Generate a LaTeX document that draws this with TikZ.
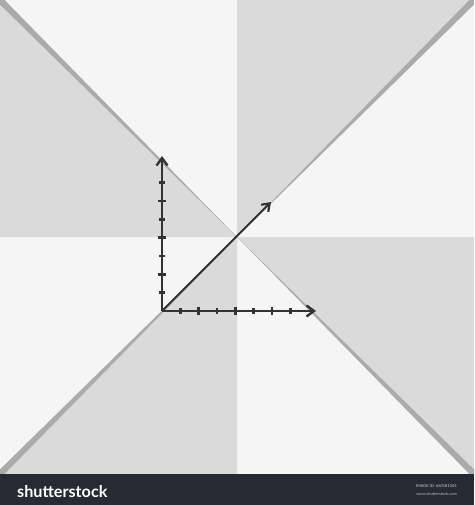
\documentclass[tikz,border=0pt]{standalone}
\usepackage{fontspec}
\setmainfont{Lato}
\usetikzlibrary{arrows.meta,calc}

\definecolor{paneLight}{HTML}{F5F5F5}
\definecolor{paneDark}{HTML}{DADADA}
\definecolor{seamGray}{HTML}{ABABAB}
\definecolor{axisDark}{HTML}{333333}
\definecolor{barDark}{HTML}{262A33}

\tikzset{axis/.style = {draw = axisDark,
                        line width = 2.7pt,
                        -{Straight Barb[length=7.5pt,width=11pt,line width=2.4pt]}},
         slant/.style = {draw = axisDark,
                         line width = 2pt,
                         -{Straight Barb[length=7pt,width=10pt,line width=2.2pt]}},
         tick/.style = {draw = axisDark,
                        line width = 2.6pt},
         seam/.style = {fill = seamGray}}

\begin{document}
\begin{tikzpicture}[x=1pt,y=-1pt]
    \useasboundingbox (0,0) rectangle (474,505);
    % background panes
    \fill[paneLight] (0,0) rectangle (474,474);
    \fill[paneDark] (0,0) -- (237,237) -- (0,237) -- cycle;
    \fill[paneDark] (237,0) -- (474,0) -- (237,237) -- cycle;
    \fill[paneDark] (237,237) -- (474,237) -- (474,474) -- cycle;
    \fill[paneDark] (237,237) -- (237,474) -- (0,474) -- cycle;
    % seams to the corners
    \begin{scope}
        \clip (0,0) rectangle (474,474);
        \fill[seam] (237,237) -- (-2.3,2.3) -- (2.3,-2.3) -- cycle;
        \fill[seam] (237,237) -- (471.7,-2.3) -- (476.3,2.3) -- cycle;
        \fill[seam] (237,237) -- (476.3,471.7) -- (471.7,476.3) -- cycle;
        \fill[seam] (237,237) -- (2.3,476.3) -- (-2.3,471.7) -- cycle;
    \end{scope}
    % axes
    \coordinate (O) at (162,311);
    \coordinate (X) at (316,311);
    \coordinate (Y) at (162,156);
    \coordinate (D) at (271,202);
    \foreach \i in {1,...,7}{
        \pgfmathsetmacro{\h}{ifthenelse(mod(\i,2)==0,4.3,2.9)}
        \draw[tick] ($(O)+(18.35*\i,-\h)$) -- ($(O)+(18.35*\i,\h)$);
        \draw[tick] ($(O)+(-\h,-18.35*\i)$) -- ($(O)+(\h,-18.35*\i)$);
    }
    \draw[axis] (O) -- (X);
    \draw[axis] (O) -- (Y);
    \draw[slant] (O) -- (D);
    % bottom bar
    \fill[barDark] (0,474) rectangle (474,505);
    \node[anchor=base west, text=white, font=\fontsize{16.2}{16}\selectfont\bfseries, inner sep=0pt] (logo) at (17,497) {shutterstock};
    \node[anchor=base east, text=white!80!barDark, font=\fontsize{4}{4}\selectfont, inner sep=0pt] (imgid) at (457,487) {IMAGE ID: 660181345};
    \node[anchor=base east, text=white!70!barDark, font=\fontsize{4}{4}\selectfont, inner sep=0pt] (site) at (457,495) {www.shutterstock.com};
\end{tikzpicture}
\end{document}
